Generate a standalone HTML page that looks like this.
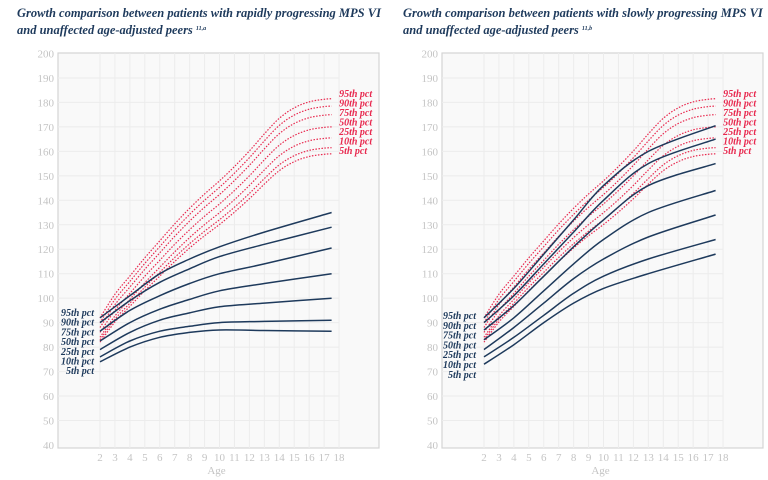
<!DOCTYPE html>
<html><head><meta charset="utf-8"><style>
html,body{margin:0;padding:0;background:#fff;width:768px;height:480px;overflow:hidden}
svg{display:block}
.t{font-family:"Liberation Serif",serif;font-style:italic;font-weight:bold;fill:#1e3a5c;font-size:12.5px}
.ax{font-family:"Liberation Serif",serif;fill:#c4c4c4;font-size:11px}
.nl{font-family:"Liberation Serif",serif;font-style:italic;font-weight:bold;fill:#1e3a5c;font-size:10px}
.rl{font-family:"Liberation Serif",serif;font-style:italic;font-weight:bold;fill:#e8294f;font-size:10px}
</style></head><body>
<svg id="s" width="768" height="480" xmlns="http://www.w3.org/2000/svg">
<text class="t" x="17" y="17">Growth comparison between patients with rapidly progressing MPS VI</text>
<text class="t" x="17" y="34">and unaffected age-adjusted peers <tspan font-size="6" dy="-4">11,a</tspan></text>
<text class="t" x="403" y="17">Growth comparison between patients with slowly progressing MPS VI</text>
<text class="t" x="403" y="34">and unaffected age-adjusted peers <tspan font-size="6" dy="-4">11,b</tspan></text>
<g id="c0"></g><g id="c1"></g>
</svg>
<script>
var NS="http://www.w3.org/2000/svg";
function el(p,n,a,t){var e=document.createElementNS(NS,n);for(var k in a)e.setAttribute(k,a[k]);if(t)e.textContent=t;p.appendChild(e);return e;}
function Y(v){return 445-(v-40)*2.447;}
var ages=[2,4,6,8,10,13,17.5];
var labs=["95th pct","90th pct","75th pct","50th pct","25th pct","10th pct","5th pct"];
var h50=[[2,86],[3,95],[4,102],[5,109],[6,115.5],[7,122],[8,128],[9,133.5],[10,138.5],[11,144],[12,150],[13,156.5],[14,162.5],[15,166.5],[16,168.8],[17,169.8],[17.5,170]];
var cS=[92,90,88,86,84,83,82],cE=[181.5,178.5,175,170,165.5,161.5,159];
var rapid=[[92,101,110,116,121,127,135],[90,99,106.5,112,117,122,129],[86.5,95,101,106,110,114,120.5],[82.5,90,95.5,99.5,103,106,110],[79,86,91,94,96.5,98,100],[76,82.5,86.5,88.5,90,90.5,91],[74,80,84,86,87,86.8,86.5]];
var slow=[[92,104,118,132,146,160,170.5],[90,101,114,127,140,155,165],[87,97,109,121,132,146,155],[83,92,103,114,124,135,144],[79,88,98,108,116,125,134],[76,84,93,102,109,116,124],[73,81,90,98,104,110,118]];
function path(pts){ // catmull-rom
 var d="M"+pts[0][0].toFixed(1)+","+pts[0][1].toFixed(1);
 for(var i=0;i<pts.length-1;i++){var p0=pts[Math.max(i-1,0)],p1=pts[i],p2=pts[i+1],p3=pts[Math.min(i+2,pts.length-1)];
 d+="C"+(p1[0]+(p2[0]-p0[0])/6).toFixed(1)+","+(p1[1]+(p2[1]-p0[1])/6).toFixed(1)+" "+(p2[0]-(p3[0]-p1[0])/6).toFixed(1)+","+(p2[1]-(p3[1]-p1[1])/6).toFixed(1)+" "+p2[0].toFixed(1)+","+p2[1].toFixed(1);}
 return d;}
function chart(g,ox,navy,lab){
 var L=58+ox,R=379+ox,T=53,B=448;
 var X=function(a){return 100+ox+(a-2)*14.94;};
 el(g,"rect",{x:L,y:T,width:R-L,height:B-T,fill:"#f9f9f9",stroke:"#d4d4d4","stroke-width":1.2});
 for(var v=40;v<=200;v+=10){if(v>40&&v<200)el(g,"line",{x1:L,x2:X(18),y1:Y(v),y2:Y(v),stroke:"#ececec"});
  el(g,"text",{class:"ax",x:L-4,y:Y(v)+4,"text-anchor":"end"},""+v);}
 for(var a=2;a<=18;a++){el(g,"line",{x1:X(a),x2:X(a),y1:T,y2:B,stroke:"#ececec"});
  el(g,"text",{class:"ax",x:X(a),y:461,"text-anchor":"middle"},""+a);}
 el(g,"text",{class:"ax",x:X(9.8),y:474,"text-anchor":"middle"},"Age");
 for(var i=0;i<7;i++){var pts=h50.map(function(q){var f=(q[1]-86)/84;return [X(q[0]),Y(cS[i]+(cE[i]-cS[i])*f)];});
  el(g,"path",{d:path(pts),fill:"none",stroke:"#e8294f","stroke-width":1.2,"stroke-dasharray":"1.5 1.5"});
  el(g,"text",{class:"rl",x:X(17.6)+6,y:97+i*9.5},labs[i]);}
 for(var i=0;i<7;i++){var pts=ages.map(function(a,j){return [X(a),Y(navy[i][j])];});
  el(g,"path",{d:path(pts),fill:"none",stroke:"#1e3a5c","stroke-width":1.5});
  el(g,"text",{class:"nl",x:lab[0]+ox,y:lab[1]+i*lab[2],"text-anchor":"end"},labs[i]);}
}
chart(document.getElementById("c0"),0,rapid,[94,316,9.7]);
chart(document.getElementById("c1"),384,slow,[92,319,9.8]);
</script>
</body></html>
